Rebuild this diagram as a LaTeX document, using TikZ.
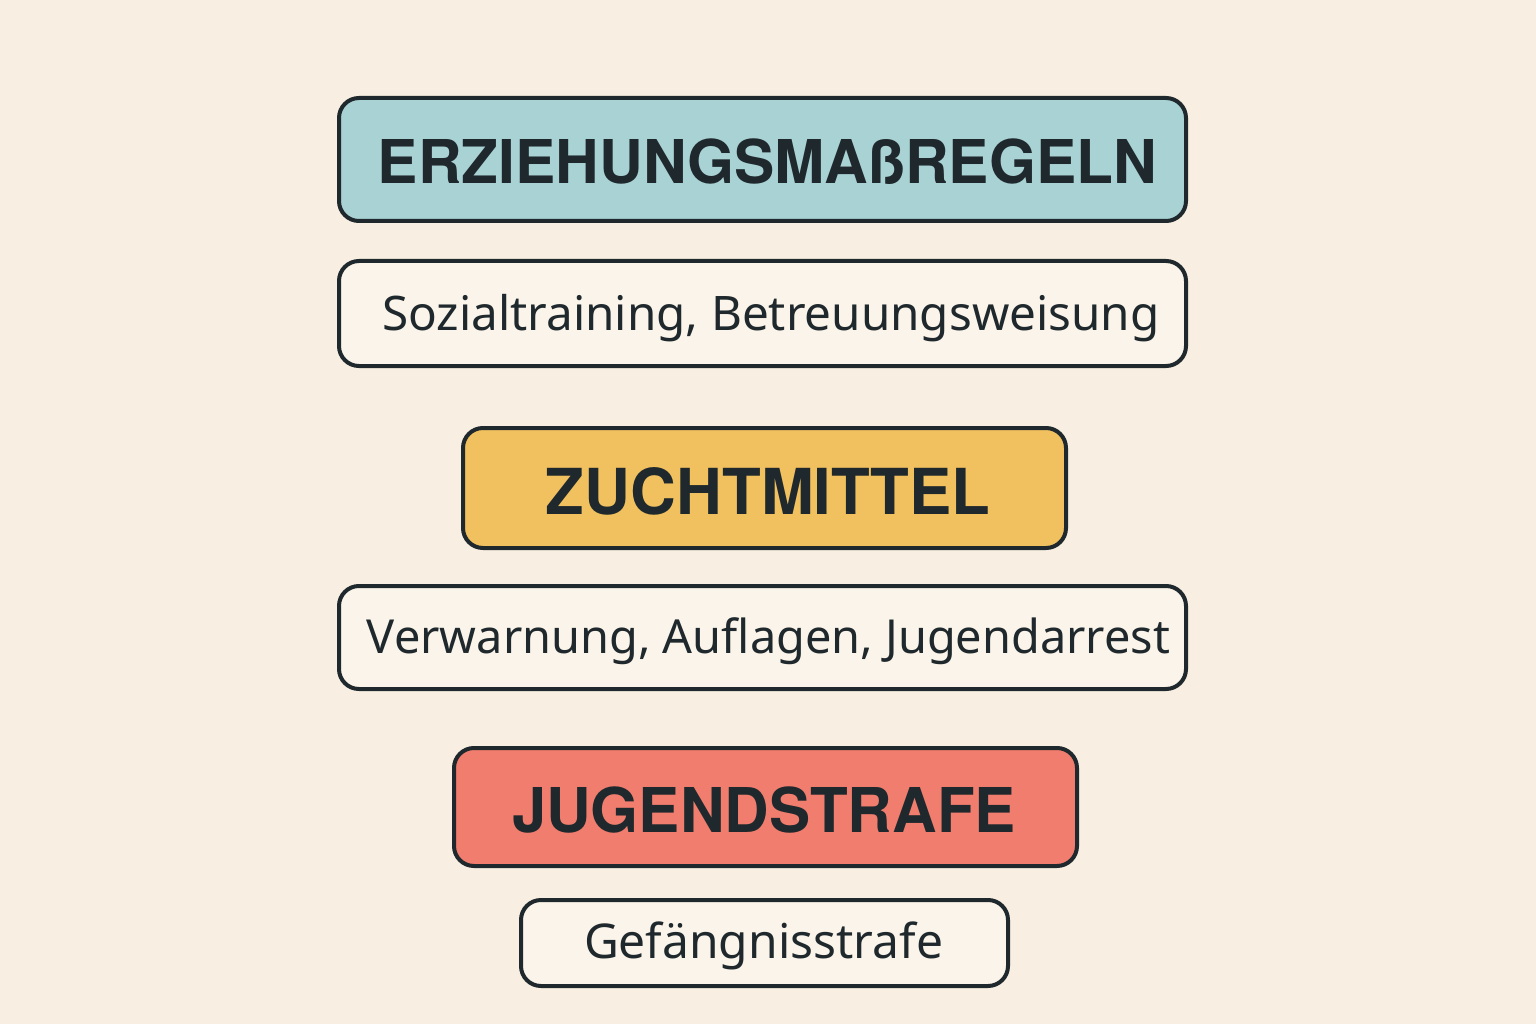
\documentclass[tikz,border=0pt]{standalone}
\usepackage{fontspec}
\setmainfont{Noto Sans}
\newfontfamily\headfont{TeX Gyre Heros}
\definecolor{bg}{HTML}{F8EFE2}
\definecolor{inner}{HTML}{FBF4EA}
\definecolor{teal}{HTML}{A9D2D4}
\definecolor{gold}{HTML}{F1C15F}
\definecolor{salmon}{HTML}{F07D6D}
\definecolor{ink}{HTML}{1F282C}
\tikzset{
  box/.style={draw=ink, line width=4pt, rounded corners=20pt, inner sep=0pt, anchor=center},
  headbox/.style={box},
  subbox/.style={box, fill=inner},
  lbl/.style={text=ink, inner sep=0pt, anchor=center},
}
\newcommand{\headtxt}[2]{\resizebox{#1}{!}{\fontsize{62}{70}\selectfont\headfont\bfseries #2}}
\newcommand{\subtxt}[2]{\resizebox{#1}{!}{\fontsize{50}{58}\selectfont #2}}
\begin{document}
\begin{tikzpicture}[x=1pt,y=-1pt]
\fill[bg] (0,0) rectangle (1536,1024);
\useasboundingbox (0,0) rectangle (1536,1024);
\node[headbox, fill=teal, minimum width=847pt, minimum height=123pt] (h1) at (762.5,159.5) {};
\node[lbl] (t1) at (767.5,161.5) {\headtxt{779pt}{ERZIEHUNGSMAßREGELN}};
\node[subbox, minimum width=847pt, minimum height=105pt] (s1) at (762.5,313.5) {};
\node[lbl] (u1) at (771,318) {\subtxt{777pt}{Sozialtraining, Betreuungsweisung}};
\node[headbox, fill=gold, minimum width=603pt, minimum height=120pt] (h2) at (764.5,488) {};
\node[lbl] (t2) at (768,491) {\headtxt{444pt}{ZUCHTMITTEL}};
\node[subbox, minimum width=847pt, minimum height=103pt] (s2) at (762.5,637.5) {};
\node[lbl] (u2) at (768.5,641.5) {\subtxt{803pt}{Verwarnung, Auflagen, Jugendarrest}};
\node[headbox, fill=salmon, minimum width=623pt, minimum height=118pt] (h3) at (765.5,807) {};
\node[lbl] (t3) at (764,810) {\headtxt{504pt}{JUGENDSTRAFE}};
\node[subbox, minimum width=487pt, minimum height=86pt] (s3) at (764.5,943) {};
\node[lbl] (u3) at (763.5,946) {\subtxt{359pt}{Gefängnisstrafe}};
\end{tikzpicture}
\end{document}
